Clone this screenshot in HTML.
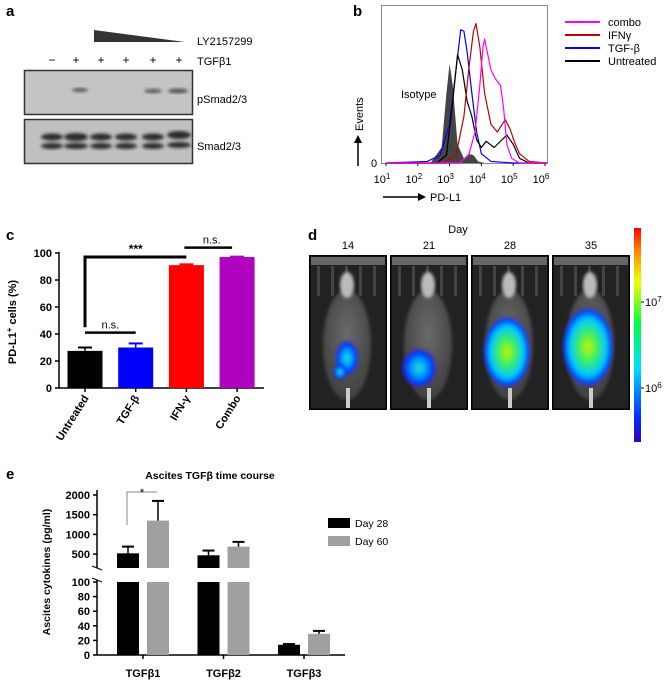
<!DOCTYPE html>
<html><head><meta charset="utf-8"><style>
html,body{margin:0;padding:0;background:#fff;}
svg{display:block;font-family:"Liberation Sans",Arial,sans-serif;}
</style></head><body>
<svg id="fig" width="666" height="685" viewBox="0 0 666 685">
<defs>
<filter id="blur1"><feGaussianBlur stdDeviation="1.6"/></filter>
<filter id="blur2"><feGaussianBlur stdDeviation="2.5"/></filter>
<linearGradient id="cbar" x1="0" y1="1" x2="0" y2="0">
<stop offset="0" stop-color="#3000c0"/><stop offset="0.12" stop-color="#0030ff"/><stop offset="0.35" stop-color="#00e0ff"/><stop offset="0.55" stop-color="#00ff40"/><stop offset="0.75" stop-color="#f0ff00"/><stop offset="0.9" stop-color="#ff8000"/><stop offset="1" stop-color="#ff0000"/>
</linearGradient>
<radialGradient id="lum" cx="0.5" cy="0.5" r="0.5">
<stop offset="0" stop-color="#c8f000"/><stop offset="0.35" stop-color="#40f060"/><stop offset="0.7" stop-color="#00c8ff"/><stop offset="0.9" stop-color="#0040ff"/><stop offset="1" stop-color="#4010ff" stop-opacity="0"/>
</radialGradient>
<radialGradient id="lumB" cx="0.5" cy="0.5" r="0.5">
<stop offset="0" stop-color="#20e0c0"/><stop offset="0.4" stop-color="#00a0ff"/><stop offset="0.8" stop-color="#0030ff"/><stop offset="1" stop-color="#4010ff" stop-opacity="0"/>
</radialGradient>
<radialGradient id="mouse" cx="0.5" cy="0.4" r="0.6">
<stop offset="0" stop-color="#6a6a6a"/><stop offset="1" stop-color="#404040"/>
</radialGradient>
</defs>

<!-- Panel a -->
<g>
<text x="6" y="16" font-size="15" font-weight="bold">a</text>
<polygon points="94,30 185,42 94,42" fill="#333"/>
<text x="197" y="45" font-size="11">LY2157299</text>
<g font-size="12" text-anchor="middle">
<text x="52" y="64">−</text><text x="76" y="64">+</text><text x="101" y="64">+</text><text x="126" y="64">+</text><text x="153" y="64">+</text><text x="179" y="64">+</text>
</g>
<text x="197" y="65" font-size="11">TGFβ1</text>
<rect x="24.5" y="70.5" width="168" height="44" fill="#c4c4c4" stroke="#333" stroke-width="1.5"/>
<g filter="url(#blur1)" fill="#555">
<ellipse cx="80" cy="90" rx="8" ry="2"/><ellipse cx="153" cy="91" rx="9" ry="2"/><ellipse cx="178" cy="91" rx="10" ry="2.5"/>
</g>
<text x="197" y="103" font-size="11">pSmad2/3</text>
<rect x="24.5" y="119.5" width="168" height="44" fill="#c0c0c0" stroke="#333" stroke-width="1.5"/>
<g filter="url(#blur1)" fill="#2a2a2a">
<ellipse cx="52" cy="137" rx="11" ry="3.5"/><ellipse cx="76" cy="137" rx="12" ry="4"/><ellipse cx="101" cy="137" rx="11" ry="3.5"/><ellipse cx="126" cy="137" rx="11" ry="3.5"/><ellipse cx="153" cy="137" rx="11" ry="3.5"/><ellipse cx="179" cy="135" rx="12" ry="4"/>
<ellipse cx="52" cy="146" rx="11" ry="3"/><ellipse cx="76" cy="146" rx="12" ry="3"/><ellipse cx="101" cy="146" rx="11" ry="3"/><ellipse cx="126" cy="146" rx="11" ry="3"/><ellipse cx="153" cy="146" rx="11" ry="3"/><ellipse cx="179" cy="145" rx="12" ry="3"/>
</g>
<text x="197" y="150" font-size="11">Smad2/3</text>
</g>

<!-- Panel b -->
<g id="pb">
<text x="353" y="16" font-size="15" font-weight="bold">b</text>
<rect x="381.5" y="5.5" width="166" height="158" fill="none" stroke="#888"/>
<text x="371" y="167" font-size="11">0</text>
<text transform="translate(363,131) rotate(-90)" font-size="11">Events</text>
<line x1="358" y1="166" x2="358" y2="141" stroke="#000" stroke-width="1.5"/>
<polygon points="354,143 362,143 358,135" fill="#000"/>
<line x1="383" y1="197" x2="420" y2="197" stroke="#000" stroke-width="1.5"/>
<polygon points="418,193 418,201 426,197" fill="#000"/>
<text x="430" y="201" font-size="11">PD-L1</text>
<text x="401" y="98" font-size="11">Isotype</text>
<g font-size="11">
<line x1="565" y1="22" x2="600" y2="22" stroke="#ff00ff" stroke-width="2"/><text x="608" y="26">combo</text>
<line x1="565" y1="35" x2="600" y2="35" stroke="#c00000" stroke-width="2"/><text x="608" y="39">IFNγ</text>
<line x1="565" y1="48" x2="600" y2="48" stroke="#0000ff" stroke-width="2"/><text x="608" y="52">TGF-β</text>
<line x1="565" y1="61" x2="600" y2="61" stroke="#000" stroke-width="2"/><text x="608" y="65">Untreated</text>
</g>
</g>

<!-- Panel c -->
<g id="pc">
<text x="6" y="240" font-size="15" font-weight="bold">c</text>
<text transform="translate(16,322) rotate(-90)" font-size="11" font-weight="bold" text-anchor="middle">PD-L1<tspan baseline-shift="super" font-size="8">+</tspan> cells (%)</text>
</g>

<!-- Panel d -->
<g id="pd">
<text x="308" y="240" font-size="15" font-weight="bold">d</text>
<text x="458" y="233" font-size="11" text-anchor="middle">Day</text>
<rect x="634" y="228" width="7" height="214" fill="url(#cbar)"/>
<line x1="641" y1="302" x2="644" y2="302" stroke="#000"/><line x1="641" y1="388" x2="644" y2="388" stroke="#000"/>
<text x="645" y="306" font-size="11">10<tspan baseline-shift="super" font-size="8">7</tspan></text>
<text x="645" y="392" font-size="11">10<tspan baseline-shift="super" font-size="8">6</tspan></text>
</g>

<!-- Panel e -->
<g id="pe">
<text x="6" y="479" font-size="15" font-weight="bold">e</text>
<text x="210" y="479" font-size="10.5" font-weight="bold" text-anchor="middle">Ascites TGFβ time course</text>
<text transform="translate(50,572) rotate(-90)" font-size="10.5" font-weight="bold" text-anchor="middle">Ascites cytokines (pg/ml)</text>
<rect x="328" y="518" width="22" height="10" fill="#000"/>
<text x="355" y="527" font-size="10.5">Day 28</text>
<rect x="328" y="536" width="22" height="10" fill="#a0a0a0"/>
<text x="355" y="545" font-size="10.5">Day 60</text>
<polyline points="127,525 127,492 157,492" fill="none" stroke="#888"/>
<text x="142" y="496" font-size="11" text-anchor="middle">*</text>
</g>
</svg>
<script>
// ---- Panel b data ----
var bTicks = [1,2,3,4,5,6];
var isoX = [2.4,2.75,2.9,3.0,3.1,3.25,3.45,3.6,3.75,3.9,4.1];
var isoY = [0,0.1,0.45,0.64,0.5,0.12,0.03,0.06,0.05,0.01,0];
var tgfX = [1,2.3,2.7,3.0,3.2,3.35,3.45,3.55,3.7,3.85,4.0,4.3,5,6.2];
var tgfY = [0,0.01,0.05,0.25,0.6,0.86,0.85,0.72,0.45,0.2,0.06,0.01,0,0];
var ifnX = [1,2.8,3.2,3.45,3.6,3.75,3.83,3.95,4.1,4.3,4.5,4.75,4.9,5.05,5.2,5.5,6.2];
var ifnY = [0,0,0.05,0.3,0.6,0.85,0.9,0.75,0.45,0.25,0.2,0.28,0.22,0.13,0.06,0.01,0];
var comboX = [1,3.3,3.6,3.8,3.95,4.05,4.1,4.2,4.3,4.45,4.6,4.7,4.8,4.95,5.2,6.2];
var comboY = [0,0,0.05,0.2,0.5,0.75,0.8,0.7,0.6,0.54,0.5,0.35,0.12,0.03,0,0];
var untX = [1,2.6,2.9,3.1,3.25,3.4,3.55,3.7,3.85,4.0,4.15,4.4,4.65,4.8,5.0,5.2,5.5,6.2];
var untY = [0,0,0.05,0.4,0.7,0.6,0.4,0.3,0.15,0.1,0.14,0.1,0.15,0.18,0.12,0.03,0,0];
// ---- Panel c data ----
var cCats = ["Untreated","TGF-β","IFN-γ","Combo"];
var cVals = [27.5,30,91,97];
var cErrs = [2.5,3,0.6,0.3];
var cColors = ["#000000","#0000ff","#ff0000","#b000c0"];
var cTicks = [0,20,40,60,80,100];
// ---- Panel d data ----
var dDays = ["14","21","28","35"];
// ---- Panel e data ----
var eCats = ["TGFβ1","TGFβ2","TGFβ3"];
var eDay28 = [520,470,14];
var eDay28Err = [170,120,1];
var eDay60 = [1350,690,29];
var eDay60Err = [500,120,4];
var eUpperTicks = [500,1000,1500,2000];
var eLowerTicks = [0,20,40,60,80,100];

var NS="http://www.w3.org/2000/svg";
function mk(tag,attrs,parent){var e=document.createElementNS(NS,tag);for(var k in attrs)e.setAttribute(k,attrs[k]);parent.appendChild(e);return e;}

// Panel b
(function(){
var g=document.getElementById('pb');
function bx(v){return 386+(v-1)*31.8;}
function by(v){return 163-v*155;}
bTicks.forEach(function(t){
 var tk=mk('line',{x1:bx(t),y1:163,x2:bx(t),y2:166,stroke:'#000'},g);
 
 
 var tx=mk('text',{x:bx(t)-4,y:183,'font-size':11,'text-anchor':'middle'},g);
 
 
 tx.textContent='10';
 var s=mk('tspan',{'baseline-shift':'super','font-size':8},tx);s.textContent=String(t);
});
function pts(X,Y){return X.map(function(x,i){return Math.max(382,Math.min(547,bx(x)))+','+by(Y[i]);}).join(' ');}
var iso=mk('polygon',{points:pts(isoX,isoY),fill:'#444'},g);


[[tgfX,tgfY,'#0000ff','tgfb-histogram'],[untX,untY,'#000','untreated-histogram'],[ifnX,ifnY,'#c00000','ifn-histogram'],[comboX,comboY,'#ff00ff','combo-histogram']].forEach(function(s){
 var p=mk('polyline',{points:pts(s[0],s[1]),fill:'none',stroke:s[2],'stroke-width':1.2,'stroke-linejoin':'round'},g);
 
 
});
})();

// Panel c
(function(){
var g=document.getElementById('pc');
function cy(v){return 388-1.35*v;}
var cx0=85, step=50.7, bw=35;
mk('line',{x1:59,y1:cy(0),x2:59,y2:cy(100)-1,stroke:'#000','stroke-width':1.5},g);
mk('line',{x1:59,y1:cy(0),x2:264,y2:cy(0),stroke:'#000','stroke-width':1.5},g);
cTicks.forEach(function(t){
 mk('line',{x1:55,y1:cy(t),x2:59,y2:cy(t),stroke:'#000','stroke-width':1.5},g);
 var tx=mk('text',{x:52,y:cy(t)+4,'font-size':11,'font-weight':'bold','text-anchor':'end'},g);
 
 
 tx.textContent=t;
});
cCats.forEach(function(c,i){
 var x=cx0+i*step;
 var b=mk('rect',{x:x-bw/2,y:cy(cVals[i]),width:bw,height:cy(0)-cy(cVals[i]),fill:cColors[i]},g);
 
 
 mk('line',{x1:x,y1:cy(cVals[i]),x2:x,y2:cy(cVals[i]+cErrs[i]),stroke:cColors[i],'stroke-width':1.5},g);
 mk('line',{x1:x-7,y1:cy(cVals[i]+cErrs[i]),x2:x+7,y2:cy(cVals[i]+cErrs[i]),stroke:cColors[i],'stroke-width':2},g);
 mk('line',{x1:x,y1:cy(0),x2:x,y2:cy(0)+4,stroke:'#000','stroke-width':1.5},g);
 var tx=mk('text',{transform:'translate('+(x+4)+','+(cy(0)+10)+') rotate(-58)','font-size':11,'font-weight':'bold','text-anchor':'end'},g);
 
 
 tx.textContent=c;
});
var x0=cx0,x1=cx0+step,x2=cx0+2*step,x3=cx0+3*step;
mk('polyline',{points:x0+','+cy(45)+' '+x0+','+cy(97)+' '+x2+','+cy(97),fill:'none',stroke:'#000','stroke-width':3},g);
mk('line',{x1:x0,y1:cy(41),x2:x1,y2:cy(41),stroke:'#000','stroke-width':2.5},g);
mk('line',{x1:x2-2,y1:cy(104),x2:x3-5,y2:cy(104),stroke:'#000','stroke-width':2.5},g);
var t1=mk('text',{x:(x0+x2)/2,y:cy(100),'font-size':12,'font-weight':'bold','text-anchor':'middle'},g);t1.textContent='***';


var t2=mk('text',{x:(x0+x1)/2,y:cy(44),'font-size':11,'text-anchor':'middle'},g);t2.textContent='n.s.';


var t3=mk('text',{x:(x2+x3)/2,y:cy(107),'font-size':11,'text-anchor':'middle'},g);t3.textContent='n.s.';


})();

// Panel d
(function(){
var g=document.getElementById('pd');
var xs=[309,390,471,552];
var blobs=[[[347,358,12,18,'lumB'],[340,372,7,8,'lumB']],[[419,368,18,20,'lumB']],[[507,352,24,36,'lum']],[[588,347,26,40,'lum']]];
dDays.forEach(function(d,i){
 var x=xs[i];
 var t=mk('text',{x:x+39,y:249,'font-size':11,'text-anchor':'middle'},g);t.textContent=d;
 
 
 var fr=mk('g',{},g);
 
 
 mk('rect',{x:x,y:255,width:78,height:155,fill:'#222'},fr);
 mk('rect',{x:x+2,y:257,width:74,height:8,fill:'#666'},fr);
 for(var k=0;k<5;k++)mk('rect',{x:x+8+k*14,y:266,width:3,height:30,fill:'#444'},fr);
 mk('ellipse',{cx:x+38,cy:345,rx:24,ry:55,fill:'url(#mouse)',filter:'url(#blur1)'},fr);
 mk('ellipse',{cx:x+38,cy:285,rx:7,ry:13,fill:'#bbb',filter:'url(#blur1)'},fr);
 mk('rect',{x:x+37,y:388,width:4,height:20,fill:'#ccc'},fr);
 blobs[i].forEach(function(b){mk('ellipse',{cx:b[0],cy:b[1],rx:b[2],ry:b[3],fill:'url(#'+b[4]+')',filter:'url(#blur1)'},fr);});
 mk('rect',{x:x+0.75,y:255.75,width:76.5,height:153.5,fill:'none',stroke:'#000','stroke-width':1.5},fr);
});
})();

// Panel e
(function(){
var g=document.getElementById('pe');
function yu(v){return 495-(v-2000)*0.0394;}
function yl(v){return 655-0.73*v;}
var upBot=568, loTop=582;
mk('line',{x1:97,y1:490,x2:97,y2:upBot,stroke:'#000','stroke-width':1.5},g);
mk('line',{x1:97,y1:580,x2:97,y2:655,stroke:'#000','stroke-width':1.5},g);
mk('line',{x1:92,y1:566,x2:102,y2:570,stroke:'#000'},g);
mk('line',{x1:92,y1:578,x2:102,y2:582,stroke:'#000'},g);
mk('line',{x1:97,y1:655,x2:345,y2:655,stroke:'#000','stroke-width':1.5},g);
eUpperTicks.forEach(function(t){
 mk('line',{x1:93,y1:yu(t),x2:97,y2:yu(t),stroke:'#000','stroke-width':1.5},g);
 var tx=mk('text',{x:90,y:yu(t)+4,'font-size':11,'font-weight':'bold','text-anchor':'end'},g);tx.textContent=t;
 
 
});
eLowerTicks.forEach(function(t){
 mk('line',{x1:93,y1:yl(t),x2:97,y2:yl(t),stroke:'#000','stroke-width':1.5},g);
 var tx=mk('text',{x:90,y:yl(t)+4,'font-size':11,'font-weight':'bold','text-anchor':'end'},g);tx.textContent=t;
 
 
});
function bar(cx,v,e,col,name){
 var bw=22;
 if(v>100){
  var r1=mk('rect',{x:cx-bw/2,y:loTop,width:bw,height:655-loTop,fill:col},g);
  
  
  var r2=mk('rect',{x:cx-bw/2,y:yu(v),width:bw,height:upBot-yu(v),fill:col},g);
  
  
  var ye=yu(v+e);
  mk('line',{x1:cx,y1:yu(v),x2:cx,y2:ye,stroke:'#000','stroke-width':1.5},g);
  mk('line',{x1:cx-6,y1:ye,x2:cx+6,y2:ye,stroke:'#000','stroke-width':2},g);
 } else {
  var r=mk('rect',{x:cx-bw/2,y:yl(v),width:bw,height:655-yl(v),fill:col},g);
  
  
  var ye2=yl(v+e);
  mk('line',{x1:cx,y1:yl(v),x2:cx,y2:ye2,stroke:'#000','stroke-width':1.5},g);
  mk('line',{x1:cx-6,y1:ye2,x2:cx+6,y2:ye2,stroke:'#000','stroke-width':2},g);
 }
}
eCats.forEach(function(c,i){
 var cx=143+i*80.5;
 bar(cx-15,eDay28[i],eDay28Err[i],'#000','bar-'+c+'-day28');
 bar(cx+15,eDay60[i],eDay60Err[i],'#a0a0a0','bar-'+c+'-day60');
 mk('line',{x1:cx,y1:655,x2:cx,y2:659,stroke:'#000','stroke-width':1.5},g);
 var tx=mk('text',{x:cx,y:677,'font-size':11,'font-weight':'bold','text-anchor':'middle'},g);tx.textContent=c;
 
 
});
})();
</script>
</body></html>
